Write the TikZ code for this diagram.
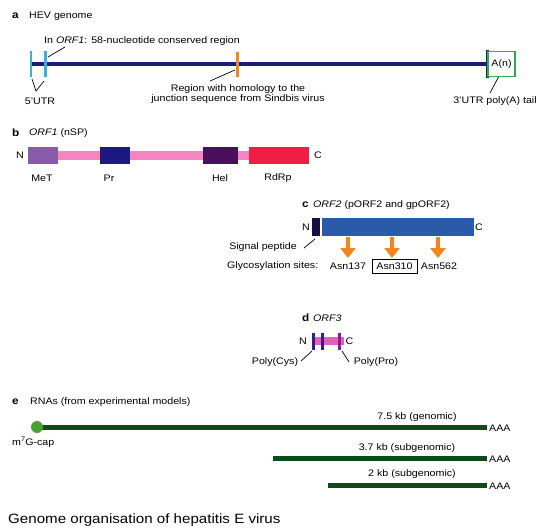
\documentclass[tikz,border=0pt]{standalone}
\usepackage{fontspec}
\setmainfont[FakeStretch=1.12]{Liberation Sans}
\usetikzlibrary{arrows.meta}
\definecolor{navy}{HTML}{1B1B78}
\definecolor{cyanc}{HTML}{3AAEDC}
\definecolor{orangec}{HTML}{F5841F}
\definecolor{greenb}{HTML}{2EA85A}
\definecolor{pinkb}{HTML}{F485C0}
\definecolor{metc}{HTML}{8A5BA8}
\definecolor{prc}{HTML}{1C1A80}
\definecolor{helc}{HTML}{4A0E5C}
\definecolor{rdrpc}{HTML}{EE1F42}
\definecolor{sigc}{HTML}{1A1040}
\definecolor{orf2c}{HTML}{2B5BA8}
\definecolor{orf3pink}{HTML}{E062B4}
\definecolor{indigoc}{HTML}{3A1A90}
\definecolor{purplec}{HTML}{8A1AA0}
\definecolor{capc}{HTML}{4AA030}
\definecolor{rnac}{HTML}{0F4A1A}
\begin{document}
\begin{tikzpicture}[x=1pt,y=-1pt,
  every node/.style={inner sep=0pt, font=\fontsize{9.5}{10}\selectfont},
  lbl/.style={font=\bfseries\fontsize{10.5}{11}\selectfont, anchor=west},
  txt/.style={anchor=west},
  callout/.style={draw=black, line width=0.7pt},
  protdom/.style={minimum height=17pt, inner sep=0pt},
  rna/.style={draw=rnac, line width=5pt},
  glyarrow/.style={draw=orangec, line width=3.5pt, -{Triangle[width=15pt,length=10pt]}}]
\useasboundingbox[fill=white] (0,0) rectangle (550,531);

% ---------- a ----------
\node[lbl] (la) at (12,16) {a};
\node[txt] (ta) at (29,16) {HEV genome};
\coordinate (g1) at (30,64);
\coordinate (g2) at (487,64);
\draw[navy, line width=4pt] (g1) -- (g2);
\coordinate (c1t) at (31,51); \coordinate (c1b) at (31,77);
\coordinate (c2t) at (45.5,51); \coordinate (c2b) at (45.5,77);
\draw[cyanc, line width=2.6pt] (c1t) -- (c1b);
\draw[cyanc, line width=2.6pt] (c2t) -- (c2b);
\coordinate (ot) at (237.5,52); \coordinate (ob) at (237.5,77);
\draw[orangec, line width=3pt] (ot) -- (ob);
\coordinate (et) at (487.5,50); \coordinate (eb) at (487.5,78);
\draw[navy, line width=3pt] (et) -- (eb);
\node[draw=greenb, line width=1.2pt, minimum width=27pt, minimum height=25pt] (An) at (501.5,64) {A(n)};
\node[txt] (orf1c) at (44,41) {In \textit{ORF1}: 58-nucleotide conserved region};
\coordinate (k1) at (48,57);
\coordinate (k1e) at (65,47);
\draw[callout] (k1) -- (k1e);
\node (utr5) at (40,101) {5'UTR};
\coordinate (v1) at (32,79);
\coordinate (v2) at (36,91);
\coordinate (v3) at (44,81);
\draw[callout] (v1) -- (v2) -- (v3);
\node[align=center] (sind) at (238,94) {Region with homology to the\\junction sequence from Sindbis virus};
\coordinate (h1) at (235,70);
\coordinate (h2) at (210,81);
\draw[callout] (h1) -- (h2);
\node (utr3) at (495,101) {3'UTR poly(A) tail};
\coordinate (p1) at (498.5,77);
\coordinate (p2) at (490,93);
\draw[callout] (p1) -- (p2);

% ---------- b ----------
\node[lbl] (lb) at (12,133) {b};
\node[txt] (tb) at (29,133) {\textit{ORF1} (nSP)};
\fill[pinkb] (58,150.5) rectangle (250,160);
\node[protdom, fill=metc, minimum width=30pt] (met) at (43,155.5) {};
\node[protdom, fill=prc, minimum width=30pt] (pr) at (115,155.5) {};
\node[protdom, fill=helc, minimum width=35pt] (hel) at (220.5,155.5) {};
\node[protdom, fill=rdrpc, minimum width=60pt] (rdrp) at (279,155.5) {};
\node (nb) at (20,155.5) {N};
\node (cb) at (318,155.5) {C};
\node (lmet) at (42,178) {MeT};
\node (lpr) at (109,178) {Pr};
\node (lhel) at (220,178) {Hel};
\node (lrdrp) at (278,178) {RdRp};

% ---------- c ----------
\node[lbl] (lc) at (302,205) {c};
\node[txt] (tc) at (313,205) {\textit{ORF2} (pORF2 and gpORF2)};
\node[fill=sigc, minimum width=8pt, minimum height=18pt] (sig) at (316,227) {};
\node[fill=orf2c, minimum width=152pt, minimum height=18pt] (orf2) at (398,227) {};
\node (nc) at (306,227) {N};
\node (cc) at (479,227) {C};
\node (sigp) at (263,247) {Signal peptide};
\coordinate (s1) at (315,239);
\coordinate (s2) at (304,248);
\draw[callout] (s1) -- (s2);
\node[txt] (glyc) at (227,266) {Glycosylation sites:};
\node (a137) at (348,266) {Asn137};
\node[draw=black, line width=0.8pt, minimum width=45pt, minimum height=14pt] (a310) at (394.5,266) {Asn310};
\node (a562) at (439,266) {Asn562};
\coordinate (ar1) at (348,237); \coordinate (ah1) at (348,258);
\coordinate (ar2) at (392,237); \coordinate (ah2) at (392,258);
\coordinate (ar3) at (438,237); \coordinate (ah3) at (438,258);
\draw[glyarrow] (ar1) -- (ah1);
\draw[glyarrow] (ar2) -- (ah2);
\draw[glyarrow] (ar3) -- (ah3);

% ---------- d ----------
\node[lbl] (ld) at (302,318) {d};
\node[txt] (td) at (313,318) {\textit{ORF3}};
\fill[orf3pink] (312,337) rectangle (344,345);
\coordinate (d1t) at (313,332.5); \coordinate (d1b) at (313,349.5);
\coordinate (d2t) at (322.5,332.5); \coordinate (d2b) at (322.5,349.5);
\coordinate (d3t) at (339,332.5); \coordinate (d3b) at (339,349.5);
\draw[indigoc, line width=3pt] (d1t) -- (d1b);
\draw[indigoc, line width=3pt] (d2t) -- (d2b);
\draw[purplec, line width=3pt] (d3t) -- (d3b);
\node (nd) at (303,341) {N};
\node (cd) at (349.5,341) {C};
\node (pcys) at (275,362) {Poly(Cys)};
\node (ppro) at (376,362) {Poly(Pro)};
\coordinate (q1) at (312,351);
\coordinate (q2) at (301,361);
\draw[callout] (q1) -- (q2);
\coordinate (q3) at (342,351);
\coordinate (q4) at (349,362);
\draw[callout] (q3) -- (q4);

% ---------- e ----------
\node[lbl] (le) at (12,402) {e};
\node[txt] (te) at (30,402) {RNAs (from experimental models)};
\coordinate (r1s) at (37,427); \coordinate (r1e) at (487,427);
\coordinate (r2s) at (273,458); \coordinate (r2e) at (487,458);
\coordinate (r3s) at (328,485); \coordinate (r3e) at (487,485);
\draw[rna] (r1s) -- (r1e);
\draw[rna] (r2s) -- (r2e);
\draw[rna] (r3s) -- (r3e);
\node[circle, fill=capc, minimum size=12pt] (cap) at (37,427) {};
\node[txt] (capl) at (12,442) {m$^{\mathrm{7}}$G-cap};
\node (k75) at (417,417) {7.5 kb (genomic)};
\node (k37) at (407,448) {3.7 kb (subgenomic)};
\node (k2) at (412,474) {2 kb (subgenomic)};
\node[txt] (aaa1) at (489,428) {AAA};
\node[txt] (aaa2) at (489,459) {AAA};
\node[txt] (aaa3) at (489,486) {AAA};

% caption
\node[txt, font=\fontsize{13.5}{15}\selectfont] (cap2) at (8,520) {Genome organisation of hepatitis E virus};
\end{tikzpicture}
\end{document}
